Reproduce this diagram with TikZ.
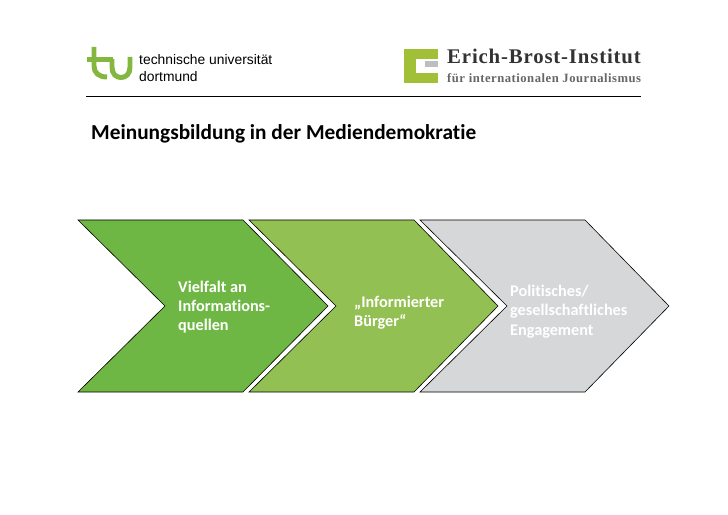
\documentclass[tikz,border=0pt]{standalone}
\usepackage{fontspec}
\setmainfont[Ligatures=NoCommon]{Carlito}
\newfontfamily\arialfont{Liberation Sans}
\newfontfamily\brostfont[LetterSpace=4]{Liberation Serif}
\usepackage{tikz}
\usetikzlibrary{positioning,calc}
\usepackage{xcolor}
\definecolor{tugreen}{HTML}{84B740}
\definecolor{darkchev}{HTML}{6FB744}
\definecolor{midchev}{HTML}{93C052}
\definecolor{greychev}{HTML}{D6D7D8}
\definecolor{brostgreen}{HTML}{A2C037}
\definecolor{brostgrey}{HTML}{BDBEBF}

\begin{document}
\begin{tikzpicture}[x=1bp,y=-1bp,chevron/.style={draw=black,line width=0.6pt,line join=miter},
    chevlabel/.style={anchor=west,align=left,text=white,inner sep=0pt,font=\fontsize{16.3}{19.3}\selectfont\bfseries},
    tustroke/.style={draw=tugreen,line width=5pt}]

        \useasboundingbox (0,0) rectangle (728,515);

        % header
        \draw[tustroke] (87,59.5) -- (113,59.5);
        \draw[tustroke] (94,47) -- (94,66) .. controls (94,73) and (99,77) .. (107,77);
        \draw[tustroke] (112,59) -- (112,67) .. controls (112,74) and (116,77.5) .. (121,77.5) .. controls (126,77.5) and (130,74) .. (130,67) -- (130,57);

        \node[anchor=west,align=left,inner sep=0pt,font=\arialfont\fontsize{13.9}{17}\selectfont] (tuname) at (139,68.5) {technische universität\\dortmund};

        \fill[brostgreen] (404,49) rectangle (438,83);
        \fill[white] (416,59) rectangle (438,73);
        \fill[brostgrey] (425,61) rectangle (438,67);

        \node[anchor=base west,inner sep=0pt,text=black!80,font=\brostfont\fontsize{20.9}{20.9}\selectfont\bfseries] (brost) at (447,64) {Erich-Brost-Institut};
        \node[anchor=base west,inner sep=0pt,text=black!60,font=\brostfont\fontsize{12.7}{12.7}\selectfont\bfseries] (journal) at (447,83) {für internationalen Journalismus};

        \coordinate (ruleL) at (86,96.5);
        \coordinate (ruleR) at (641,96.5);
        \draw[thin,black] (ruleL) -- (ruleR);

        \node[anchor=base west,inner sep=0pt,font=\fontsize{21.4}{21.4}\selectfont\bfseries] (title) at (91,139.5) {Meinungsbildung in der Mediendemokratie};

        % chevrons
        \draw[chevron,fill=darkchev] (78,220) -- (243,220) -- (328,306) -- (243,392) -- (78,392) -- (165,306) -- cycle;
        \draw[chevron,fill=midchev] (249,220) -- (414,220) -- (498,306) -- (414,392) -- (249,392) -- (336,306) -- cycle;
        \draw[chevron,fill=greychev] (420,220) -- (585,220) -- (669,306) -- (585,392) -- (420,392) -- (507,306) -- cycle;

        \node[chevlabel] (vielfalt) at (178,307) {Vielfalt an\\Informations-\\quellen};
        \node[chevlabel] (buerger) at (354,313) {„Informierter\\Bürger“};
        \node[chevlabel] (engagement) at (510,311.5) {Politisches/\\gesellschaftliches\\Engagement};
    \end{tikzpicture}
\end{document}
